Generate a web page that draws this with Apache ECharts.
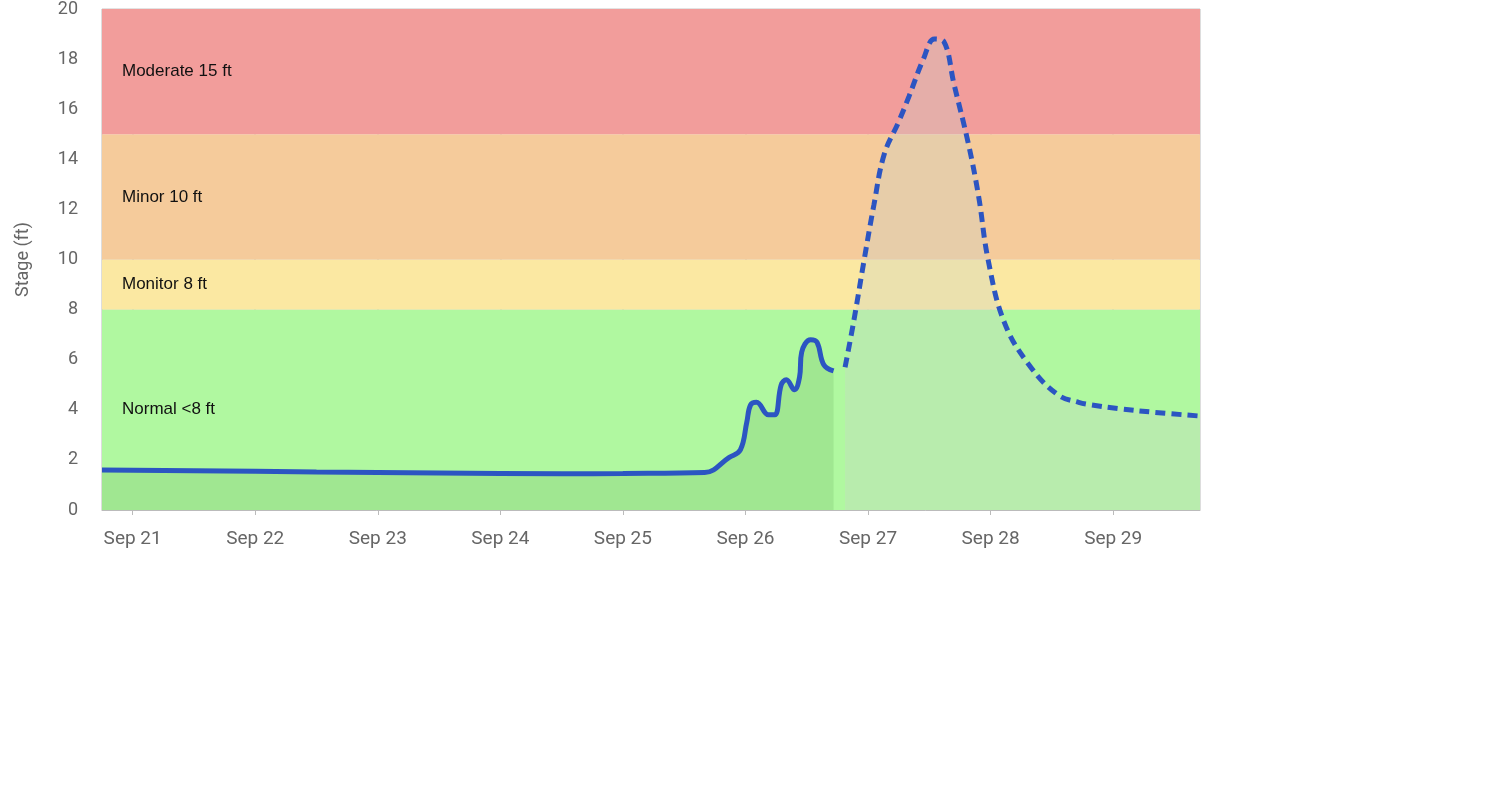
<!DOCTYPE html>
<html><head><meta charset="utf-8">
<script src="https://cdn.jsdelivr.net/npm/echarts@6/dist/echarts.min.js"></script>
<style>html,body{margin:0;padding:0;background:#fff}#c{width:1506px;height:791px}</style>
</head><body><div id="c"></div>
<script>
const observedTimes = ['2024-09-20 18:00','2024-09-21 12:00','2024-09-22 12:00','2024-09-23 12:00','2024-09-24 12:00','2024-09-25 00:00','2024-09-25 16:00','2024-09-25 20:50','2024-09-25 23:00','2024-09-26 00:15','2024-09-26 01:00','2024-09-26 02:10','2024-09-26 04:30','2024-09-26 05:45','2024-09-26 07:00','2024-09-26 08:00','2024-09-26 09:35','2024-09-26 10:35','2024-09-26 11:00','2024-09-26 12:45','2024-09-26 14:00','2024-09-26 15:20','2024-09-26 17:15'];
const observedValues = [1.6,1.57,1.52,1.48,1.45,1.46,1.5,2.1,2.4,3.5,4.2,4.3,3.8,3.8,5.0,5.2,4.8,5.3,6.3,6.8,6.7,5.8,5.55];
const forecastTimes = ['2024-09-26 19:30','2024-09-26 21:10','2024-09-26 23:15','2024-09-27 01:10','2024-09-27 03:10','2024-09-27 06:00','2024-09-27 08:00','2024-09-27 10:50','2024-09-27 13:00','2024-09-27 14:50','2024-09-27 16:50','2024-09-27 19:40','2024-09-27 21:40','2024-09-27 23:30','2024-09-28 02:40','2024-09-28 07:30','2024-09-28 13:10','2024-09-28 17:15','2024-09-28 19:40','2024-09-29 01:00','2024-09-29 08:00','2024-09-29 17:00'];
const forecastValues = [5.7,7.5,10,12.2,14.2,15.5,16.5,18,18.8,18.7,17,14.6,12.5,10,7.5,5.8,4.6,4.3,4.2,4.05,3.9,3.75];
const bandRanges = [[0,8],[8,10],[10,15],[15,20]];
const bandLabels = ['Normal <8 ft','Monitor 8 ft','Minor 10 ft','Moderate 15 ft'];
const bandColors = ['#b0f8a0','#fbe8a2','#f5cb9b','#f29d9b'];
const months = ['Jan','Feb','Mar','Apr','May','Jun','Jul','Aug','Sep','Oct','Nov','Dec'];
const zip = (t,v)=>t.map((x,i)=>[x,v[i]]);
const chart = echarts.init(document.getElementById('c'));
chart.setOption({
  animation:false,
  grid:{left:102,right:306,top:-40,bottom:281},
  xAxis:{type:'time',min:'2024-09-20 18:00',max:'2024-09-29 17:00',
    minInterval:86400000,maxInterval:86400000,
    axisLine:{lineStyle:{color:'#bbb'}},axisTick:{show:true,lineStyle:{color:'#bbb'}},
    axisLabel:{color:'#666',fontSize:19,fontFamily:'Roboto',margin:20,
      formatter:v=>{const d=new Date(v);return months[d.getMonth()]+' '+d.getDate();}},
    splitLine:{show:true,lineStyle:{color:'rgba(0,0,0,0.18)',width:1.5}}},
  yAxis:{type:'value',min:0,max:20,interval:2,name:'Stage (ft)',nameLocation:'middle',nameGap:70,
    nameTextStyle:{color:'#666',fontSize:18,fontFamily:'Roboto'},
    axisLine:{show:false},axisTick:{show:false},
    axisLabel:{color:'#666',fontSize:18,fontFamily:'Roboto',margin:24},
    splitLine:{lineStyle:{color:'rgba(0,0,0,0.15)',width:1.5}}},
  series:[
    {type:'line',data:zip(observedTimes,observedValues),smooth:0.4,showSymbol:false,
      lineStyle:{color:'#2c55c2',width:5},
      areaStyle:{color:'rgba(110,180,100,0.35)'},z:5,
      markArea:{silent:true,data:bandRanges.map((r,i)=>[{yAxis:r[0],itemStyle:{color:bandColors[i]},
          label:{show:true,position:'insideLeft',offset:[0,0],formatter:bandLabels[i],color:'#111',fontSize:17,fontFamily:'Liberation Sans'}},
        {yAxis:r[1]}]),label:{distance:20}}},
    {type:'line',data:zip(forecastTimes,forecastValues),smooth:0.4,showSymbol:false,
      lineStyle:{color:'#2c55c2',width:5,type:[10,6]},
      areaStyle:{color:'rgba(200,210,200,0.45)'},z:5}
  ]
});
</script></body></html>
